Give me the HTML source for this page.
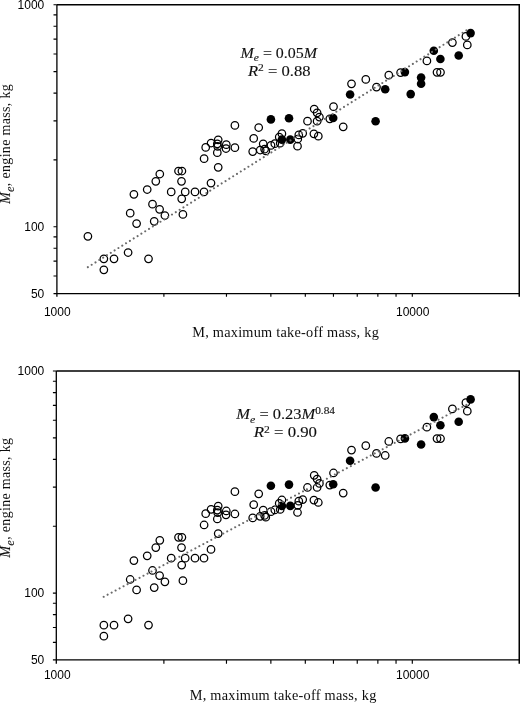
<!DOCTYPE html>
<html><head><meta charset="utf-8"><title>Engine mass vs maximum take-off mass</title>
<style>
html,body{margin:0;padding:0;background:#fff}
svg{display:block}
.tk text{font-family:"Liberation Sans",sans-serif;font-size:12px;fill:#000}
.ax{font-family:"Liberation Serif",serif;font-size:14.3px;fill:#111}
.an{font-family:"Liberation Serif",serif;font-size:14.5px;fill:#111;stroke:#111;stroke-width:0.12px}
</style></head><body>
<svg width="520" height="703" viewBox="0 0 520 703">
<defs><filter id="soft" x="0" y="0" width="520" height="703" filterUnits="userSpaceOnUse"><feGaussianBlur stdDeviation="0.38"/></filter></defs>
<rect width="520" height="703" fill="#fff"/>
<g filter="url(#soft)">
<g transform="translate(0,0)">
<path d="M56.9,4.75H519.3V296.8" fill="none" stroke="#000" stroke-width="1.6"/>
<path d="M56.9,4.75V296.8M53.5,293.6H519.3" fill="none" stroke="#000" stroke-width="1.3"/>
<path d="M53.50,276.02H56.90M53.50,261.16H56.90M53.50,248.28H56.90M53.50,236.93H56.90M53.50,226.77H56.90M53.50,159.93H56.90M53.50,120.84H56.90M53.50,93.10H56.90M53.50,71.58H56.90M53.50,54.00H56.90M53.50,39.14H56.90M53.50,26.27H56.90M53.50,14.91H56.90M53.50,4.75H56.90M163.89,293.6V296.8M226.47,293.6V296.8M270.87,293.6V296.8M305.31,293.6V296.8M333.45,293.6V296.8M357.25,293.6V296.8M377.86,293.6V296.8M396.04,293.6V296.8M412.30,293.6V296.8" fill="none" stroke="#000" stroke-width="1.15"/>
<g fill="none" stroke="#000" stroke-width="1.25">
<circle cx="87.9" cy="236.3" r="3.75"/>
<circle cx="103.85" cy="258.85" r="3.75"/>
<circle cx="103.85" cy="269.85" r="3.75"/>
<circle cx="114.0" cy="258.85" r="3.75"/>
<circle cx="128.1" cy="252.5" r="3.75"/>
<circle cx="148.5" cy="258.8" r="3.75"/>
<circle cx="130.2" cy="213.2" r="3.75"/>
<circle cx="136.6" cy="223.6" r="3.75"/>
<circle cx="133.9" cy="194.3" r="3.75"/>
<circle cx="147.2" cy="189.5" r="3.75"/>
<circle cx="152.5" cy="204.2" r="3.75"/>
<circle cx="159.6" cy="209.3" r="3.75"/>
<circle cx="154.2" cy="221.3" r="3.75"/>
<circle cx="164.9" cy="215.5" r="3.75"/>
<circle cx="155.8" cy="181.3" r="3.75"/>
<circle cx="159.8" cy="174.0" r="3.75"/>
<circle cx="171.2" cy="191.9" r="3.75"/>
<circle cx="178.5" cy="171.0" r="3.75"/>
<circle cx="181.9" cy="171.0" r="3.75"/>
<circle cx="181.5" cy="181.3" r="3.75"/>
<circle cx="185.2" cy="191.9" r="3.75"/>
<circle cx="181.7" cy="198.8" r="3.75"/>
<circle cx="182.9" cy="214.4" r="3.75"/>
<circle cx="195.0" cy="191.9" r="3.75"/>
<circle cx="204.0" cy="191.9" r="3.75"/>
<circle cx="204.1" cy="158.7" r="3.75"/>
<circle cx="205.7" cy="147.4" r="3.75"/>
<circle cx="211.1" cy="143.0" r="3.75"/>
<circle cx="218.2" cy="139.8" r="3.75"/>
<circle cx="217.3" cy="143.8" r="3.75"/>
<circle cx="217.7" cy="146.4" r="3.75"/>
<circle cx="226.3" cy="144.7" r="3.75"/>
<circle cx="226.0" cy="148.5" r="3.75"/>
<circle cx="234.9" cy="147.7" r="3.75"/>
<circle cx="217.3" cy="152.7" r="3.75"/>
<circle cx="218.2" cy="167.3" r="3.75"/>
<circle cx="234.9" cy="125.4" r="3.75"/>
<circle cx="211.0" cy="183.1" r="3.75"/>
<circle cx="258.7" cy="127.5" r="3.75"/>
<circle cx="253.7" cy="138.4" r="3.75"/>
<circle cx="252.7" cy="151.6" r="3.75"/>
<circle cx="260.2" cy="150.0" r="3.75"/>
<circle cx="263.2" cy="143.8" r="3.75"/>
<circle cx="264.6" cy="149.2" r="3.75"/>
<circle cx="265.8" cy="150.9" r="3.75"/>
<circle cx="271.0" cy="145.4" r="3.75"/>
<circle cx="274.8" cy="143.7" r="3.75"/>
<circle cx="279.2" cy="137.1" r="3.75"/>
<circle cx="281.9" cy="133.7" r="3.75"/>
<circle cx="280.2" cy="143.2" r="3.75"/>
<circle cx="297.5" cy="146.2" r="3.75"/>
<circle cx="297.8" cy="139.0" r="3.75"/>
<circle cx="298.8" cy="134.9" r="3.75"/>
<circle cx="302.7" cy="133.3" r="3.75"/>
<circle cx="307.5" cy="121.2" r="3.75"/>
<circle cx="314.2" cy="109.0" r="3.75"/>
<circle cx="317.1" cy="112.8" r="3.75"/>
<circle cx="319.4" cy="117.1" r="3.75"/>
<circle cx="317.1" cy="121.2" r="3.75"/>
<circle cx="313.9" cy="133.8" r="3.75"/>
<circle cx="318.3" cy="136.2" r="3.75"/>
<circle cx="333.5" cy="106.7" r="3.75"/>
<circle cx="329.8" cy="118.8" r="3.75"/>
<circle cx="343.2" cy="126.8" r="3.75"/>
<circle cx="351.5" cy="83.8" r="3.75"/>
<circle cx="365.8" cy="79.4" r="3.75"/>
<circle cx="376.5" cy="87.1" r="3.75"/>
<circle cx="388.8" cy="75.2" r="3.75"/>
<circle cx="400.6" cy="72.6" r="3.75"/>
<circle cx="426.9" cy="60.9" r="3.75"/>
<circle cx="437.0" cy="72.3" r="3.75"/>
<circle cx="440.5" cy="72.3" r="3.75"/>
<circle cx="452.4" cy="42.6" r="3.75"/>
<circle cx="467.3" cy="44.9" r="3.75"/>
<circle cx="465.9" cy="36.4" r="3.75"/>
</g><g fill="#000">
<circle cx="270.9" cy="119.4" r="4.3"/>
<circle cx="289.0" cy="118.3" r="4.3"/>
<circle cx="281.9" cy="139.6" r="4.3"/>
<circle cx="290.3" cy="139.6" r="4.3"/>
<circle cx="333.2" cy="118.0" r="4.3"/>
<circle cx="350.1" cy="94.5" r="4.3"/>
<circle cx="375.6" cy="121.2" r="4.3"/>
<circle cx="385.2" cy="89.2" r="4.3"/>
<circle cx="404.9" cy="72.1" r="4.3"/>
<circle cx="410.7" cy="94.1" r="4.3"/>
<circle cx="421.1" cy="77.6" r="4.3"/>
<circle cx="421.1" cy="83.7" r="4.3"/>
<circle cx="433.8" cy="50.8" r="4.3"/>
<circle cx="440.4" cy="59.0" r="4.3"/>
<circle cx="458.7" cy="55.5" r="4.3"/>
<circle cx="470.6" cy="33.1" r="4.3"/>
</g>
<line x1="87.85" y1="267.15" x2="467.3" y2="29.84" stroke="#6a6a6a" stroke-width="2.05" stroke-dasharray="0.01 4.5" stroke-linecap="round"/>
<g class="tk">
<text x="44.3" y="8.55" text-anchor="end">1000</text>
<text x="44.3" y="231.07" text-anchor="end">100</text>
<text x="44.3" y="297.90" text-anchor="end">50</text>
<text x="57.3" y="315.5" text-anchor="middle">1000</text>
<text x="412.70" y="315.5" text-anchor="middle">10000</text>
</g>
<text class="ax" x="192.2" y="336.9" textLength="186.6" lengthAdjust="spacing">M, maximum take-off mass, kg</text>
<text class="ax" transform="translate(10.3,203.8) rotate(-90)" textLength="119.5" lengthAdjust="spacing" style="font-size:14px"><tspan font-style="italic" font-size="13.8" stroke="#111" stroke-width="0.12">M</tspan><tspan font-style="italic" font-size="12.5" dy="3.4" stroke="#111" stroke-width="0.1">e</tspan><tspan dy="-3.4">, engine mass, kg</tspan></text>
<text class="an" x="240.5" y="57.5" textLength="76.5" lengthAdjust="spacingAndGlyphs"><tspan font-style="italic">M</tspan><tspan font-style="italic" font-size="10.5" dy="3.6">e</tspan><tspan dy="-3.6"> = 0.05</tspan><tspan font-style="italic">M</tspan></text><text class="an" x="248" y="75.5" textLength="62.5" lengthAdjust="spacingAndGlyphs"><tspan font-style="italic">R</tspan><tspan font-size="10" dy="-4.5">2</tspan><tspan dy="4.5"> = 0.88</tspan></text>
</g>
<g transform="translate(0,366.3)">
<path d="M56.3,4.75H519.3V297.5" fill="none" stroke="#000" stroke-width="1.6"/>
<path d="M56.3,4.75V297.5M52.9,293.6H519.3" fill="none" stroke="#000" stroke-width="1.3"/>
<path d="M52.90,276.02H56.30M52.90,261.16H56.30M52.90,248.28H56.30M52.90,236.93H56.30M52.90,226.77H56.30M52.90,159.93H56.30M52.90,120.84H56.30M52.90,93.10H56.30M52.90,71.58H56.30M52.90,54.00H56.30M52.90,39.14H56.30M52.90,26.27H56.30M52.90,14.91H56.30M52.90,4.75H56.30M163.89,293.6V297.5M226.47,293.6V297.5M270.87,293.6V297.5M305.31,293.6V297.5M333.45,293.6V297.5M357.25,293.6V297.5M377.86,293.6V297.5M396.04,293.6V297.5M412.30,293.6V297.5" fill="none" stroke="#000" stroke-width="1.15"/>
<g fill="none" stroke="#000" stroke-width="1.25">
<circle cx="103.85" cy="258.85" r="3.75"/>
<circle cx="103.85" cy="269.85" r="3.75"/>
<circle cx="114.0" cy="258.85" r="3.75"/>
<circle cx="128.1" cy="252.5" r="3.75"/>
<circle cx="148.5" cy="258.8" r="3.75"/>
<circle cx="130.2" cy="213.2" r="3.75"/>
<circle cx="136.6" cy="223.6" r="3.75"/>
<circle cx="133.9" cy="194.3" r="3.75"/>
<circle cx="147.2" cy="189.5" r="3.75"/>
<circle cx="152.5" cy="204.2" r="3.75"/>
<circle cx="159.6" cy="209.3" r="3.75"/>
<circle cx="154.2" cy="221.3" r="3.75"/>
<circle cx="164.9" cy="215.5" r="3.75"/>
<circle cx="155.8" cy="181.3" r="3.75"/>
<circle cx="159.8" cy="174.0" r="3.75"/>
<circle cx="171.2" cy="191.9" r="3.75"/>
<circle cx="178.5" cy="171.0" r="3.75"/>
<circle cx="181.9" cy="171.0" r="3.75"/>
<circle cx="181.5" cy="181.3" r="3.75"/>
<circle cx="185.2" cy="191.9" r="3.75"/>
<circle cx="181.7" cy="198.8" r="3.75"/>
<circle cx="182.9" cy="214.4" r="3.75"/>
<circle cx="195.0" cy="191.9" r="3.75"/>
<circle cx="204.0" cy="191.9" r="3.75"/>
<circle cx="204.1" cy="158.7" r="3.75"/>
<circle cx="205.7" cy="147.4" r="3.75"/>
<circle cx="211.1" cy="143.0" r="3.75"/>
<circle cx="218.2" cy="139.8" r="3.75"/>
<circle cx="217.3" cy="143.8" r="3.75"/>
<circle cx="217.7" cy="146.4" r="3.75"/>
<circle cx="226.3" cy="144.7" r="3.75"/>
<circle cx="226.0" cy="148.5" r="3.75"/>
<circle cx="234.9" cy="147.7" r="3.75"/>
<circle cx="217.3" cy="152.7" r="3.75"/>
<circle cx="218.2" cy="167.3" r="3.75"/>
<circle cx="234.9" cy="125.4" r="3.75"/>
<circle cx="211.0" cy="183.1" r="3.75"/>
<circle cx="258.7" cy="127.5" r="3.75"/>
<circle cx="253.7" cy="138.4" r="3.75"/>
<circle cx="252.7" cy="151.6" r="3.75"/>
<circle cx="260.2" cy="150.0" r="3.75"/>
<circle cx="263.2" cy="143.8" r="3.75"/>
<circle cx="264.6" cy="149.2" r="3.75"/>
<circle cx="265.8" cy="150.9" r="3.75"/>
<circle cx="271.0" cy="145.4" r="3.75"/>
<circle cx="274.8" cy="143.7" r="3.75"/>
<circle cx="279.2" cy="137.1" r="3.75"/>
<circle cx="281.9" cy="133.7" r="3.75"/>
<circle cx="280.2" cy="143.2" r="3.75"/>
<circle cx="297.5" cy="146.2" r="3.75"/>
<circle cx="297.8" cy="139.0" r="3.75"/>
<circle cx="298.8" cy="134.9" r="3.75"/>
<circle cx="302.7" cy="133.3" r="3.75"/>
<circle cx="307.5" cy="121.2" r="3.75"/>
<circle cx="314.2" cy="109.0" r="3.75"/>
<circle cx="317.1" cy="112.8" r="3.75"/>
<circle cx="319.4" cy="117.1" r="3.75"/>
<circle cx="317.1" cy="121.2" r="3.75"/>
<circle cx="313.9" cy="133.8" r="3.75"/>
<circle cx="318.3" cy="136.2" r="3.75"/>
<circle cx="333.5" cy="106.7" r="3.75"/>
<circle cx="329.8" cy="118.8" r="3.75"/>
<circle cx="343.2" cy="126.8" r="3.75"/>
<circle cx="351.5" cy="83.8" r="3.75"/>
<circle cx="365.8" cy="79.4" r="3.75"/>
<circle cx="376.5" cy="87.1" r="3.75"/>
<circle cx="388.8" cy="75.2" r="3.75"/>
<circle cx="400.6" cy="72.6" r="3.75"/>
<circle cx="426.9" cy="60.9" r="3.75"/>
<circle cx="437.0" cy="72.3" r="3.75"/>
<circle cx="440.5" cy="72.3" r="3.75"/>
<circle cx="452.4" cy="42.6" r="3.75"/>
<circle cx="467.3" cy="44.9" r="3.75"/>
<circle cx="465.9" cy="36.4" r="3.75"/>
<circle cx="385.2" cy="89.2" r="3.75"/>
</g><g fill="#000">
<circle cx="270.9" cy="119.4" r="4.3"/>
<circle cx="289.0" cy="118.3" r="4.3"/>
<circle cx="281.9" cy="139.6" r="4.3"/>
<circle cx="290.3" cy="139.6" r="4.3"/>
<circle cx="333.2" cy="118.0" r="4.3"/>
<circle cx="350.1" cy="94.5" r="4.3"/>
<circle cx="375.6" cy="121.2" r="4.3"/>
<circle cx="404.9" cy="72.1" r="4.3"/>
<circle cx="433.8" cy="50.8" r="4.3"/>
<circle cx="440.4" cy="59.0" r="4.3"/>
<circle cx="458.7" cy="55.5" r="4.3"/>
<circle cx="470.6" cy="33.1" r="4.3"/>
<circle cx="421.1" cy="78.2" r="4.3"/>
</g>
<line x1="103.65" y1="230.50" x2="467.3" y2="38.17" stroke="#6a6a6a" stroke-width="2.05" stroke-dasharray="0.01 4.5" stroke-linecap="round"/>
<g class="tk">
<text x="44.3" y="9.05" text-anchor="end">1000</text>
<text x="44.3" y="231.07" text-anchor="end">100</text>
<text x="44.3" y="297.90" text-anchor="end">50</text>
<text x="57.3" y="312.6" text-anchor="middle">1000</text>
<text x="412.70" y="312.6" text-anchor="middle">10000</text>
</g>
<text class="ax" x="189.7" y="333.3" textLength="186.6" lengthAdjust="spacing">M, maximum take-off mass, kg</text>
<text class="ax" transform="translate(10.3,191.2) rotate(-90)" textLength="119.5" lengthAdjust="spacing" style="font-size:14px"><tspan font-style="italic" font-size="13.8" stroke="#111" stroke-width="0.12">M</tspan><tspan font-style="italic" font-size="12.5" dy="3.4" stroke="#111" stroke-width="0.1">e</tspan><tspan dy="-3.4">, engine mass, kg</tspan></text>
<text class="an" x="236.3" y="53.2" textLength="98.7" lengthAdjust="spacingAndGlyphs"><tspan font-style="italic">M</tspan><tspan font-style="italic" font-size="10.5" dy="3.6">e</tspan><tspan dy="-3.6"> = 0.23</tspan><tspan font-style="italic">M</tspan><tspan font-size="10" dy="-5">0.84</tspan></text><text class="an" x="253.75" y="71.2" textLength="63.25" lengthAdjust="spacingAndGlyphs"><tspan font-style="italic">R</tspan><tspan font-size="10" dy="-4.5">2</tspan><tspan dy="4.5"> = 0.90</tspan></text>
</g>
</g>
</svg>
</body></html>
